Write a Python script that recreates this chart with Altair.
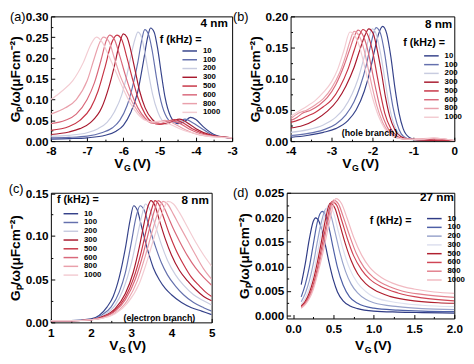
import altair as alt
import pandas as pd

FREQS = ["10", "100", "200", "300", "500", "600", "800", "1000"]
FONT = "Liberation Sans"
YTITLE = "Gₚ/ω(μFcm⁻²)"

COLORS_ABC = ["#35428a", "#6470ad", "#c8cce0", "#a8192e", "#c73445", "#d9687a", "#e9a0ab", "#f3ccd2"]
COLORS_D = ["#2f3b85", "#4d5fa6", "#98a3cb", "#dcdfee", "#b0202f", "#d04555", "#e27f8c", "#f1b9c1"]

# ---------------- panel (a) 4 nm ----------------
A_X = {
    "10": [-8, -7.5, -7, -6.5, -6.2, -6.0, -5.8, -5.6, -5.45, -5.33, -5.25, -5.15, -5.05, -4.95, -4.85, -4.7, -4.5, -4.3, -4.15, -4.0, -3.8, -3.5, -3.2, -3],
    "100": [-8, -7.5, -7, -6.6, -6.3, -6.1, -5.9, -5.75, -5.6, -5.5, -5.41, -5.3, -5.2, -5.1, -5.0, -4.85, -4.65, -4.45, -4.3, -4.1, -3.8, -3.5, -3],
    "200": [-8, -7.5, -7, -6.7, -6.45, -6.25, -6.05, -5.9, -5.78, -5.68, -5.6, -5.5, -5.4, -5.3, -5.2, -5.05, -4.85, -4.6, -4.4, -4.2, -3.9, -3.5, -3],
    "300": [-8, -7.5, -7.2, -6.9, -6.6, -6.4, -6.25, -6.12, -6.0, -5.9, -5.8, -5.7, -5.55, -5.4, -5.2, -5.0, -4.8, -4.6, -4.45, -4.25, -4.0, -3.6, -3],
    "500": [-8, -7.5, -7.2, -6.9, -6.7, -6.5, -6.35, -6.18, -6.05, -5.9, -5.75, -5.6, -5.4, -5.2, -5.0, -4.8, -4.6, -4.4, -4.1, -3.7, -3],
    "600": [-8, -7.6, -7.3, -7.0, -6.8, -6.6, -6.48, -6.38, -6.25, -6.1, -5.95, -5.8, -5.6, -5.4, -5.2, -5.0, -4.7, -4.5, -4.2, -3.8, -3],
    "800": [-8, -7.6, -7.3, -7.0, -6.8, -6.65, -6.55, -6.4, -6.25, -6.1, -5.9, -5.7, -5.5, -5.3, -5.1, -4.85, -4.6, -4.3, -3.9, -3],
    "1000": [-8, -7.7, -7.4, -7.1, -6.9, -6.74, -6.6, -6.4, -6.2, -6.0, -5.8, -5.6, -5.4, -5.2, -5.0, -4.7, -4.4, -4.0, -3.5, -3],
}
A_Y = {
    "10": [0.005, 0.006, 0.008, 0.014, 0.024, 0.038, 0.068, 0.12, 0.19, 0.25, 0.272, 0.262, 0.22, 0.16, 0.105, 0.06, 0.042, 0.048, 0.057, 0.052, 0.035, 0.016, 0.009, 0.007],
    "100": [0.008, 0.009, 0.012, 0.02, 0.032, 0.05, 0.085, 0.13, 0.19, 0.24, 0.268, 0.255, 0.215, 0.16, 0.11, 0.065, 0.045, 0.047, 0.053, 0.045, 0.028, 0.013, 0.008],
    "200": [0.012, 0.014, 0.02, 0.03, 0.045, 0.07, 0.11, 0.16, 0.21, 0.245, 0.262, 0.25, 0.21, 0.16, 0.115, 0.07, 0.045, 0.046, 0.05, 0.042, 0.025, 0.012, 0.008],
    "300": [0.016, 0.022, 0.03, 0.045, 0.08, 0.13, 0.18, 0.23, 0.258, 0.25, 0.22, 0.18, 0.12, 0.08, 0.052, 0.042, 0.042, 0.05, 0.053, 0.045, 0.03, 0.015, 0.008],
    "500": [0.026, 0.035, 0.05, 0.08, 0.12, 0.18, 0.23, 0.255, 0.245, 0.2, 0.15, 0.105, 0.065, 0.045, 0.04, 0.045, 0.052, 0.046, 0.03, 0.016, 0.008],
    "600": [0.042, 0.05, 0.065, 0.1, 0.14, 0.2, 0.24, 0.255, 0.245, 0.205, 0.16, 0.12, 0.08, 0.055, 0.043, 0.042, 0.05, 0.045, 0.03, 0.016, 0.008],
    "800": [0.065, 0.08, 0.1, 0.145, 0.2, 0.238, 0.25, 0.24, 0.2, 0.16, 0.12, 0.085, 0.06, 0.047, 0.044, 0.05, 0.042, 0.028, 0.015, 0.008],
    "1000": [0.1, 0.12, 0.145, 0.19, 0.232, 0.25, 0.24, 0.205, 0.165, 0.125, 0.09, 0.065, 0.05, 0.046, 0.048, 0.04, 0.028, 0.018, 0.01, 0.008],
}

# ---------------- panel (b) 8 nm, hole branch ----------------
B_X = {
    "10": [-4, -3.6, -3.2, -2.9, -2.6, -2.4, -2.2, -2.05, -1.95, -1.85, -1.75, -1.65, -1.55, -1.45, -1.35, -1.25, -1.1, -0.9, -0.5, 0],
    "100": [-4, -3.6, -3.2, -2.9, -2.65, -2.45, -2.3, -2.15, -2.05, -1.91, -1.8, -1.7, -1.6, -1.5, -1.4, -1.3, -1.15, -0.9, -0.5, 0],
    "200": [-4, -3.6, -3.2, -2.9, -2.7, -2.5, -2.35, -2.2, -2.0, -1.9, -1.8, -1.7, -1.6, -1.5, -1.4, -1.25, -1.0, -0.5, 0],
    "300": [-4, -3.7, -3.4, -3.1, -2.85, -2.65, -2.45, -2.3, -2.18, -2.09, -1.98, -1.88, -1.78, -1.68, -1.58, -1.45, -1.3, -1.1, -0.5, 0],
    "500": [-4, -3.8, -3.6, -3.4, -3.2, -3.0, -2.8, -2.6, -2.45, -2.33, -2.23, -2.1, -2.0, -1.9, -1.8, -1.7, -1.55, -1.4, -1.2, -0.5, 0],
    "600": [-4, -3.85, -3.7, -3.5, -3.3, -3.1, -2.9, -2.7, -2.55, -2.45, -2.35, -2.22, -2.1, -2.0, -1.9, -1.8, -1.65, -1.5, -1.3, -0.8, -0.5, 0],
    "800": [-4, -3.8, -3.6, -3.4, -3.2, -3.0, -2.8, -2.65, -2.55, -2.45, -2.32, -2.2, -2.1, -2.0, -1.9, -1.75, -1.6, -1.4, -1.0, -0.5, 0],
    "1000": [-4, -3.8, -3.6, -3.4, -3.2, -3.0, -2.85, -2.7, -2.55, -2.42, -2.3, -2.2, -2.1, -2.0, -1.85, -1.7, -1.5, -1.2, -0.8, -0.5, 0],
}
B_Y = {
    "10": [0.006, 0.009, 0.014, 0.02, 0.033, 0.05, 0.08, 0.115, 0.145, 0.172, 0.184, 0.172, 0.135, 0.085, 0.045, 0.02, 0.006, 0.002, 0.001, 0.0005],
    "100": [0.009, 0.012, 0.018, 0.027, 0.042, 0.063, 0.088, 0.122, 0.152, 0.182, 0.172, 0.14, 0.095, 0.055, 0.028, 0.012, 0.004, 0.002, 0.001, 0.0005],
    "200": [0.014, 0.018, 0.026, 0.038, 0.052, 0.075, 0.1, 0.135, 0.18, 0.17, 0.14, 0.1, 0.06, 0.032, 0.016, 0.006, 0.002, 0.001, 0.0005],
    "300": [0.021, 0.025, 0.034, 0.048, 0.066, 0.088, 0.118, 0.148, 0.17, 0.18, 0.172, 0.145, 0.11, 0.07, 0.04, 0.018, 0.007, 0.003, 0.001, 0.0005],
    "500": [0.03, 0.034, 0.04, 0.046, 0.055, 0.066, 0.086, 0.115, 0.145, 0.168, 0.179, 0.168, 0.145, 0.11, 0.075, 0.045, 0.02, 0.008, 0.003, 0.002, 0.0005],
    "600": [0.033, 0.038, 0.045, 0.05, 0.058, 0.07, 0.09, 0.12, 0.148, 0.167, 0.178, 0.168, 0.142, 0.11, 0.078, 0.05, 0.024, 0.01, 0.004, 0.003, 0.004, 0.001],
    "800": [0.036, 0.045, 0.05, 0.058, 0.068, 0.085, 0.11, 0.138, 0.16, 0.176, 0.168, 0.145, 0.115, 0.085, 0.058, 0.03, 0.014, 0.005, 0.003, 0.005, 0.001],
    "1000": [0.04, 0.048, 0.056, 0.065, 0.078, 0.095, 0.115, 0.145, 0.175, 0.168, 0.148, 0.122, 0.095, 0.07, 0.04, 0.02, 0.008, 0.003, 0.003, 0.005, 0.001],
}

# ---------------- panel (c) 8 nm, electron branch ----------------
C_X = {
    "10": [1, 1.5, 2.0, 2.2, 2.4, 2.55, 2.7, 2.85, 2.97, 3.06, 3.15, 3.25, 3.4, 3.55, 3.7, 3.85, 4.0, 4.25, 4.5, 4.75, 5],
    "100": [1, 1.5, 2.0, 2.25, 2.5, 2.7, 2.85, 3.0, 3.12, 3.22, 3.32, 3.45, 3.6, 3.75, 3.9, 4.1, 4.3, 4.55, 4.8, 5],
    "200": [1, 1.5, 2.0, 2.3, 2.6, 2.8, 3.0, 3.15, 3.27, 3.35, 3.45, 3.6, 3.75, 3.9, 4.1, 4.3, 4.55, 4.8, 5],
    "300": [1, 1.5, 2.0, 2.3, 2.6, 2.85, 3.05, 3.2, 3.32, 3.42, 3.49, 3.58, 3.7, 3.85, 4.0, 4.2, 4.4, 4.6, 4.8, 5],
    "500": [1, 1.5, 2.0, 2.3, 2.6, 2.85, 3.05, 3.25, 3.4, 3.52, 3.59, 3.68, 3.8, 3.95, 4.1, 4.3, 4.5, 4.7, 4.85, 5],
    "600": [1, 1.5, 2.0, 2.3, 2.6, 2.85, 3.1, 3.3, 3.45, 3.58, 3.67, 3.77, 3.9, 4.05, 4.2, 4.4, 4.6, 4.8, 5],
    "800": [1, 1.5, 2.0, 2.3, 2.6, 2.9, 3.15, 3.35, 3.52, 3.67, 3.79, 3.9, 4.05, 4.2, 4.4, 4.6, 4.8, 5],
    "1000": [1, 1.5, 2.0, 2.3, 2.6, 2.9, 3.2, 3.4, 3.6, 3.78, 3.91, 4.05, 4.2, 4.4, 4.6, 4.8, 5],
}
C_Y = {
    "10": [0.002, 0.002, 0.004, 0.008, 0.018, 0.03, 0.052, 0.085, 0.118, 0.135, 0.13, 0.112, 0.085, 0.063, 0.049, 0.039, 0.032, 0.023, 0.017, 0.013, 0.009],
    "100": [0.002, 0.002, 0.003, 0.008, 0.018, 0.035, 0.057, 0.092, 0.122, 0.135, 0.13, 0.11, 0.088, 0.069, 0.055, 0.042, 0.032, 0.023, 0.017, 0.013],
    "200": [0.002, 0.002, 0.003, 0.008, 0.02, 0.038, 0.068, 0.1, 0.125, 0.137, 0.132, 0.112, 0.09, 0.072, 0.055, 0.043, 0.032, 0.025, 0.02],
    "300": [0.002, 0.002, 0.003, 0.007, 0.016, 0.033, 0.058, 0.087, 0.115, 0.135, 0.141, 0.136, 0.118, 0.096, 0.078, 0.06, 0.048, 0.038, 0.03, 0.025],
    "500": [0.002, 0.002, 0.003, 0.006, 0.014, 0.029, 0.05, 0.082, 0.112, 0.133, 0.141, 0.137, 0.122, 0.102, 0.085, 0.067, 0.052, 0.042, 0.035, 0.03],
    "600": [0.002, 0.002, 0.003, 0.006, 0.013, 0.026, 0.05, 0.08, 0.108, 0.13, 0.141, 0.137, 0.124, 0.108, 0.094, 0.077, 0.063, 0.052, 0.043],
    "800": [0.002, 0.002, 0.003, 0.005, 0.011, 0.025, 0.048, 0.077, 0.105, 0.128, 0.14, 0.137, 0.125, 0.112, 0.095, 0.078, 0.062, 0.05],
    "1000": [0.002, 0.002, 0.003, 0.005, 0.01, 0.022, 0.045, 0.072, 0.103, 0.128, 0.14, 0.137, 0.127, 0.11, 0.093, 0.078, 0.065],
}

# ---------------- panel (d) 27 nm ----------------
D_X = {
    "10": [0.1, 0.15, 0.2, 0.25, 0.28, 0.32, 0.38, 0.45, 0.5, 0.55, 0.62, 0.7, 0.8, 1.0, 1.3, 1.6, 2.0],
    "100": [0.1, 0.15, 0.2, 0.25, 0.3, 0.36, 0.4, 0.45, 0.5, 0.55, 0.62, 0.7, 0.8, 1.0, 1.3, 1.6, 2.0],
    "200": [0.1, 0.15, 0.2, 0.25, 0.3, 0.35, 0.41, 0.46, 0.52, 0.58, 0.65, 0.72, 0.8, 0.9, 1.0, 1.3, 1.6, 2.0],
    "300": [0.1, 0.15, 0.2, 0.25, 0.3, 0.35, 0.4, 0.44, 0.5, 0.56, 0.62, 0.7, 0.8, 0.9, 1.0, 1.3, 1.6, 2.0],
    "500": [0.1, 0.15, 0.2, 0.25, 0.3, 0.35, 0.4, 0.46, 0.52, 0.58, 0.65, 0.72, 0.8, 0.9, 1.0, 1.2, 1.5, 1.8, 2.0],
    "600": [0.1, 0.15, 0.2, 0.25, 0.3, 0.35, 0.42, 0.48, 0.54, 0.6, 0.67, 0.75, 0.85, 0.95, 1.1, 1.3, 1.6, 2.0],
    "800": [0.1, 0.15, 0.2, 0.25, 0.3, 0.36, 0.43, 0.5, 0.56, 0.62, 0.7, 0.78, 0.88, 1.0, 1.15, 1.35, 1.6, 2.0],
    "1000": [0.1, 0.15, 0.2, 0.25, 0.3, 0.37, 0.45, 0.53, 0.6, 0.67, 0.75, 0.85, 0.95, 1.1, 1.3, 1.5, 1.75, 2.0],
}
D_Y = {
    "10": [0.0063, 0.0105, 0.0155, 0.0192, 0.0199, 0.0192, 0.0158, 0.0105, 0.0072, 0.0048, 0.003, 0.002, 0.0014, 0.0009, 0.0007, 0.0006, 0.0005],
    "100": [0.0038, 0.0063, 0.0098, 0.0145, 0.019, 0.0212, 0.0205, 0.0175, 0.0135, 0.0098, 0.0062, 0.0038, 0.0025, 0.0015, 0.0011, 0.0009, 0.0008],
    "200": [0.0028, 0.0045, 0.007, 0.0105, 0.015, 0.019, 0.0218, 0.0208, 0.017, 0.0128, 0.009, 0.0064, 0.0046, 0.0033, 0.0026, 0.0018, 0.0014, 0.0012],
    "300": [0.0022, 0.0035, 0.0055, 0.0085, 0.0125, 0.017, 0.021, 0.0225, 0.021, 0.0172, 0.0135, 0.0096, 0.0066, 0.0049, 0.0038, 0.0026, 0.0021, 0.0018],
    "500": [0.0019, 0.0029, 0.0046, 0.0072, 0.0108, 0.015, 0.0195, 0.0229, 0.0218, 0.0185, 0.0145, 0.0112, 0.0085, 0.0065, 0.0053, 0.0039, 0.003, 0.0026, 0.0025],
    "600": [0.0017, 0.0026, 0.004, 0.0063, 0.0095, 0.0135, 0.0193, 0.0232, 0.0225, 0.0195, 0.0158, 0.0122, 0.0093, 0.0074, 0.0058, 0.0046, 0.0036, 0.003],
    "800": [0.0016, 0.0024, 0.0037, 0.0058, 0.0088, 0.0132, 0.019, 0.0235, 0.0228, 0.0202, 0.0163, 0.0128, 0.0098, 0.0077, 0.0062, 0.005, 0.0043, 0.0037],
    "1000": [0.0015, 0.0022, 0.0034, 0.0053, 0.0082, 0.0128, 0.019, 0.0238, 0.0228, 0.0198, 0.016, 0.0123, 0.0098, 0.0077, 0.0062, 0.0054, 0.0048, 0.0045],
}

# axis ticks / labels
A_XMAJ = [-8, -7, -6, -5, -4, -3]
A_XMIN = [-7.5, -6.5, -5.5, -4.5, -3.5]
A_YMAJ = [0.0, 0.05, 0.10, 0.15, 0.20, 0.25, 0.2999999]
A_YMIN = [0.025, 0.075, 0.125, 0.175, 0.225, 0.275]
B_XMAJ = [-4, -3, -2, -1, -0.0000001]
B_XMIN = [-3.5, -2.5, -1.5, -0.5]
B_YMAJ = [0.0, 0.05, 0.10, 0.15, 0.1999999]
B_YMIN = [0.025, 0.075, 0.125, 0.175]
C_XMAJ = [1, 2, 3, 4, 4.9999999]
C_XMIN = [1.5, 2.5, 3.5, 4.5]
C_YMAJ = [0.0, 0.05, 0.10, 0.149]
C_YMIN = [0.025, 0.075, 0.125]
D_XMAJ = [0.0, 0.5, 1.0, 1.5, 1.9999999]
D_XMIN = [0.25, 0.75, 1.25, 1.75]
D_YMAJ = [0.0, 0.005, 0.010, 0.015, 0.020, 0.0249999]
D_YMIN = [0.0025, 0.0075, 0.0125, 0.0175, 0.0225]


def curves(xs, ys):
    rows = []
    for i, f in enumerate(FREQS):
        for x, y in zip(xs[f], ys[f]):
            rows.append({"f": f, "x": x, "y": y, "k": i})
    return pd.DataFrame(rows)


MINUS = "replace(datum.label, '\u2212', '-')"


def panel(xs, ys, xdom, ydom, xmaj, xmin, ymaj, ymin, xfmt, yfmt, colors,
          w, h, tag, tagx, tagy, tagalign, notes, lx, ly, rowpad, tl, tb):
    df = curves(xs, ys)
    xs_ = alt.Scale(domain=xdom, nice=False, zero=False)
    ys_ = alt.Scale(domain=ydom, nice=False, zero=False)
    lines = alt.Chart(df).mark_line(strokeWidth=1.2, interpolate="monotone", clip=True).encode(
        x=alt.X("x:Q", scale=xs_, axis=alt.Axis(
            values=xmaj, format=xfmt, labelExpr=MINUS, title=None, orient="bottom",
            tickSize={"expr": "-4"}, labelPadding=9, labelFlush=False, labelOverlap=False)),
        y=alt.Y("y:Q", scale=ys_, axis=alt.Axis(
            values=ymaj, format=yfmt, title=YTITLE, orient="left",
            tickSize={"expr": "-4"}, labelPadding=7, titlePadding=3,
            labelFlush=False, labelOverlap=False)),
        color=alt.Color("f:N", sort=FREQS,
                        scale=alt.Scale(domain=FREQS, range=colors),
                        legend=alt.Legend(orient="none", legendX=lx, legendY=ly, title=None,
                                          symbolType="M-2,0H2", symbolStrokeWidth=1.5,
                                          symbolSize=56, labelFontSize=8, labelFont=FONT,
                                          labelFontWeight="bold", labelColor="black",
                                          rowPadding=rowpad, labelOffset=9, padding=0)),
        order=alt.Order("k:Q"),
    )
    minor = alt.Chart(df).mark_point(opacity=0).encode(
        x=alt.X("x:Q", scale=xs_, axis=alt.Axis(
            values=xmin, labels=False, domain=False, title=None, orient="bottom",
            tickSize={"expr": "-2"})),
        y=alt.Y("y:Q", scale=ys_, axis=alt.Axis(
            values=ymin, labels=False, domain=False, title=None, orient="left",
            tickSize={"expr": "-2"})),
    )
    layers = [lines, minor]
    for nx, ny, txt, size, align in notes:
        ndf = pd.DataFrame({"x": [nx], "y": [ny], "t": [txt]})
        layers.append(alt.Chart(ndf).mark_text(
            font=FONT, fontWeight="bold", fontSize=size, align=align, baseline="middle",
            color="black").encode(
            x=alt.X("x:Q", scale=xs_, axis=None), y=alt.Y("y:Q", scale=ys_, axis=None),
            text="t:N"))
    tdf = pd.DataFrame({"t": [tag]})
    layers.append(alt.Chart(tdf).mark_text(
        font=FONT, fontSize=13, align=tagalign, baseline="middle", color="black").encode(
        x=alt.value(tagx), y=alt.value(tagy), text="t:N"))
    # x axis title  V_G (V)
    for txt, dx, dy, fs in [("V", 0, 0, 14), ("G", 10, 3, 9), ("(V)", 19, 0, 14)]:
        ttd = pd.DataFrame({"t": [txt]})
        layers.append(alt.Chart(ttd).mark_text(
            font=FONT, fontWeight="bold", fontSize=fs, align="left", baseline="alphabetic",
            color="black").encode(
            x=alt.value(tl + dx), y=alt.value(h + tb + dy), text="t:N"))
    return alt.layer(*layers).resolve_axis(x="independent", y="independent").properties(
        width=w, height=h)


pa = panel(A_X, A_Y, [-8, -3], [0, 0.3], A_XMAJ, A_XMIN, A_YMAJ, A_YMIN, "d", ".2f",
           COLORS_ABC, 186, 128, "(a)", -42, 1, "left",
           [(-3.12, 0.284, "4 nm", 12, "right"), (-5.0, 0.242, "f (kHz)  =", 11, "left")],
           138, 31, -1, 65, 28)
pb = panel(B_X, B_Y, [-4, 0], [0, 0.2], B_XMAJ, B_XMIN, B_YMAJ, B_YMIN, "d", ".2f",
           COLORS_ABC, 168, 128, "(b)", -59, 1, "left",
           [(-0.05, 0.187, "8 nm", 12, "right"), (-1.25, 0.158, "f (kHz)  =", 11, "left"),
            (-2.07, 0.013, "(hole branch)", 9, "center")],
           140, 36, -1, 53, 28)
pc = panel(C_X, C_Y, [1, 5], [0, 0.15], C_XMAJ, C_XMIN, C_YMAJ, C_YMIN, "d", ".2f",
           COLORS_ABC, 165, 133, "(c)", -28, -4, "right",
           [(4.93, 0.142, "8 nm", 12, "right"), (1.15, 0.142, "f (kHz)  =", 11, "left"),
            (3.7, 0.005, "(electron branch)", 9, "center")],
           16, 17, -1, 60, 28)
pd_ = panel(D_X, D_Y, [-0.08, 2.0], [-0.0006, 0.025], D_XMAJ, D_XMIN, D_YMAJ, D_YMIN, ".1f", ".3f",
            COLORS_D, 172, 129, "(d)", -55, 0, "left",
            [(1.995, 0.0241, "27 nm", 12, "right"), (0.95, 0.0193, "f (kHz)  =", 11, "left")],
            147, 22, 0, 70, 32)

row1 = alt.hconcat(pa, pb, spacing=60, bounds="flush").resolve_scale(color="independent")
row2 = alt.hconcat(pc, pd_, spacing=77, bounds="flush").resolve_scale(color="independent")

chart = alt.vconcat(row1, row2, spacing=8).resolve_scale(
    color="independent").properties(
    padding={"top": -3, "left": 0, "right": 0, "bottom": 0}, background="white").configure_view(
    stroke="black", strokeWidth=1).configure_axis(
    labelFont=FONT, labelFontWeight="bold", labelFontSize=12, labelColor="black",
    tickColor="black", tickWidth=1, titleFont=FONT, titleFontWeight="bold", titleFontSize=14,
    titleColor="black", domain=False, grid=False)

chart.save("out.html", embed_options={"renderer": "svg", "actions": False})
